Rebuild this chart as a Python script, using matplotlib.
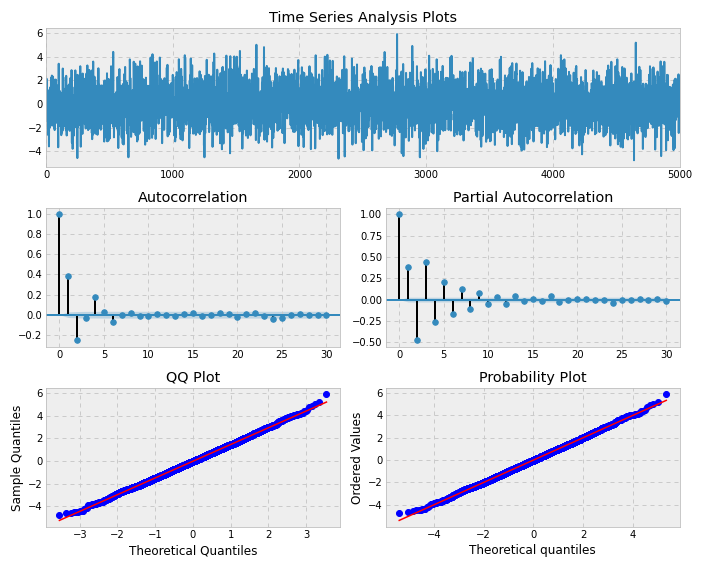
import numpy as np
import matplotlib
matplotlib.use("Agg")
import matplotlib.pyplot as plt
from matplotlib.ticker import MultipleLocator
from statistics import NormalDist

# values
acf_vals = [1.0, 0.38, -0.255, -0.032, 0.18, 0.03, -0.07, -0.005, 0.02, -0.01,
            -0.015, 0.01, -0.005, -0.015, 0.01, 0.02, -0.01, -0.005, 0.02, 0.005,
            -0.02, 0.005, 0.02, -0.015, -0.042, -0.03, 0.0, 0.01, -0.005, -0.005, 0.0]
pacf_vals = [1.0, 0.377, -0.477, 0.435, -0.258, 0.204, -0.165, 0.123, -0.115, 0.077,
             -0.05, 0.03, -0.05, 0.046, -0.012, 0.012, -0.012, 0.046, -0.027, 0.0,
             0.01, 0.01, 0.0, -0.01, -0.035, 0.0, 0.0, 0.01, 0.0, 0.01, -0.012]
n_obs = 5000
series_std = 1.47
# biggest spikes visible in the top panel (index, value)
spike_idx = [530, 840, 1660, 1720, 2770, 2890, 4640, 650, 1250, 2820, 2950]
spike_val = [4.4, 4.2, 5.0, 4.8, 5.9, 4.9, -4.75, -4.5, -4.5, -4.4, -4.5]

# the 5000-point noise itself cannot be read from the picture, so a seeded
# stand-in is drawn, tails squeezed a bit, then the visible spikes put back
rng = np.random.default_rng(7)
e = rng.standard_normal(n_obs + 3)
y = e[3:] + 0.35 * e[2:-1] - 0.2 * e[1:-2]
y = y / y.std() * series_std
y = np.where(y > 3.8, 3.8 + (y - 3.8) * 0.6, y)
y = np.where(y < -3.6, -3.6 + (y + 3.6) * 0.6, y)
y[spike_idx] = spike_val

plt.style.use('bmh')
plt.rcParams['grid.linestyle'] = (0, (4, 4))
plt.rcParams['grid.linewidth'] = 1.0
plt.rcParams['grid.color'] = '#cacaca'
plt.rcParams['xtick.major.size'] = 0
plt.rcParams['ytick.major.size'] = 0

fig = plt.figure(figsize=(703 / 72, 568 / 72), dpi=72)
ts_ax = plt.subplot2grid((3, 2), (0, 0), colspan=2)
acf_ax = plt.subplot2grid((3, 2), (1, 0))
pacf_ax = plt.subplot2grid((3, 2), (1, 1))
qq_ax = plt.subplot2grid((3, 2), (2, 0))
pp_ax = plt.subplot2grid((3, 2), (2, 1))

ts_ax.plot(np.arange(n_obs), y, color='#348ABD', lw=2)
ts_ax.set_xlim(0, n_obs)
ts_ax.yaxis.set_major_locator(MultipleLocator(2))
ts_ax.xaxis.set_major_locator(MultipleLocator(1000))
ts_ax.set_title('Time Series Analysis Plots')

lags = np.arange(len(acf_vals))
acf = np.array(acf_vals)
pacf = np.array(pacf_vals)

# bartlett band for the acf, flat band for the pacf
se = np.zeros(len(acf))
se[1:] = 1.96 * np.sqrt((1 + 2 * np.concatenate(([0], np.cumsum(acf[1:-1] ** 2)))) / n_obs)
pse = np.full(len(pacf), 1.96 / np.sqrt(n_obs))
pse[0] = 0

for ax, vals, band, title, step in [(acf_ax, acf, se, 'Autocorrelation', 0.2),
                                    (pacf_ax, pacf, pse, 'Partial Autocorrelation', 0.25)]:
    ax.vlines(lags, 0, vals, colors='k', lw=2)
    ax.axhline(0, color='#348ABD', lw=2)
    ax.plot(lags, vals, 'o', color='#348ABD', markersize=5.5)
    ax.fill_between(lags, -band, band, color='#348ABD', alpha=0.25, lw=0)
    ax.set_xlim(-1.5, 31.5)
    ax.yaxis.set_major_locator(MultipleLocator(step))
    ax.xaxis.set_major_locator(MultipleLocator(5))
    ax.set_title(title)

# qq plot
ys = np.sort(y)
nd = NormalDist()
i = np.arange(1, n_obs + 1)
x_qq = np.array([nd.inv_cdf(p) for p in i / (n_obs + 1)])
qq_ax.plot(x_qq, ys, 'bo', markersize=6)
qq_ax.plot(x_qq, x_qq * ys.std() + ys.mean(), 'r-', lw=1.5)
qq_ax.xaxis.set_major_locator(MultipleLocator(1))
qq_ax.yaxis.set_major_locator(MultipleLocator(2))
qq_ax.set_title('QQ Plot')
qq_ax.set_xlabel('Theoretical Quantiles')
qq_ax.set_ylabel('Sample Quantiles')

# probability plot (filliben positions, scaled by sample mean/std)
m = (i - 0.3175) / (n_obs + 0.365)
m[-1] = 0.5 ** (1 / n_obs)
m[0] = 1 - m[-1]
x_pp = np.array([nd.inv_cdf(p) for p in m]) * y.std() + y.mean()
slope, icpt = np.polyfit(x_pp, ys, 1)
pp_ax.plot(x_pp, ys, 'bo', markersize=6)
pp_ax.plot(x_pp, slope * x_pp + icpt, 'r-', lw=1.5)
pp_ax.xaxis.set_major_locator(MultipleLocator(2))
pp_ax.yaxis.set_major_locator(MultipleLocator(2))
pp_ax.set_title('Probability Plot')
pp_ax.set_xlabel('Theoretical quantiles')
pp_ax.set_ylabel('Ordered Values')

plt.tight_layout()
plt.savefig('out.png', dpi=72)
